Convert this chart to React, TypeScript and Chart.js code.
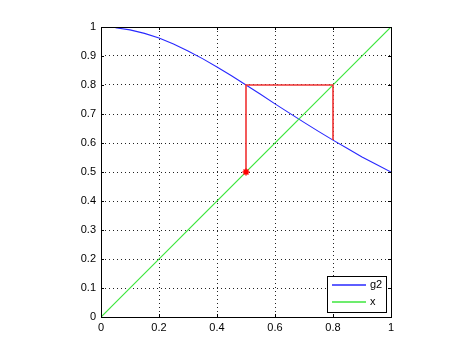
import React, { useEffect, useRef } from 'react';
import { Chart, registerables } from 'chart.js';
Chart.register(...registerables);

const g2X = [0.05, 0.1, 0.15, 0.2, 0.25, 0.3, 0.35, 0.4, 0.45, 0.5, 0.55, 0.6, 0.65, 0.7, 0.75, 0.8, 0.85, 0.9, 0.95, 1.0];
const g2Y = [0.9975, 0.99, 0.978, 0.962, 0.941, 0.917, 0.891, 0.862, 0.832, 0.8, 0.768, 0.735, 0.703, 0.671, 0.64, 0.61, 0.581, 0.552, 0.526, 0.5];
const idX = [0, 1];
const idY = [0, 1];
const webX = [0.5, 0.5, 0.8, 0.8];
const webY = [0.5, 0.8, 0.8, 0.61];
const startX = [0.5];
const startY = [0.5];
const xTickLabels = ['0', '0.2', '0.4', '0.6', '0.8', '1'];
const yTickLabels = ['0', '0.1', '0.2', '0.3', '0.4', '0.5', '0.6', '0.7', '0.8', '0.9', '1'];
const legendLabels = ['g2', 'x'];
const legendColors = ['rgb(40,40,255)', 'rgb(60,230,60)'];

const FAMILY = '"Liberation Sans", Arial, Helvetica, sans-serif';
const FONT = '11px ' + FAMILY;

const toPts = (xs: number[], ys: number[]) => xs.map((x, i) => ({ x, y: ys[i] }));

const framePlugin = {
  id: 'frame',
  afterDatasetsDraw(chart: any) {
    const { ctx, chartArea } = chart;
    const { left, right, top, bottom } = chartArea;
    ctx.save();
    ctx.setLineDash([]);
    ctx.strokeStyle = '#000';
    ctx.lineWidth = 1;
    ctx.strokeRect(Math.round(left) + 0.5, Math.round(top) + 0.5, Math.round(right - left), Math.round(bottom - top));
    const xs = chart.scales.x;
    const ys = chart.scales.y;
    const tl = 3;
    ctx.beginPath();
    xs.ticks.forEach((t: any) => {
      const px = Math.round(xs.getPixelForValue(t.value)) + 0.5;
      ctx.moveTo(px, bottom);
      ctx.lineTo(px, bottom - tl);
      ctx.moveTo(px, top);
      ctx.lineTo(px, top + tl);
    });
    ys.ticks.forEach((t: any) => {
      const py = Math.round(ys.getPixelForValue(t.value)) + 0.5;
      ctx.moveTo(left, py);
      ctx.lineTo(left + tl, py);
      ctx.moveTo(right, py);
      ctx.lineTo(right - tl, py);
    });
    ctx.stroke();
    ctx.restore();
  },
};

const legendPlugin = {
  id: 'mlegend',
  afterDraw(chart: any) {
    const { ctx, chartArea } = chart;
    const w = 59;
    const h = 36;
    const x = Math.round(chartArea.right - 5 - w);
    const y = Math.round(chartArea.bottom - 5 - h);
    ctx.save();
    ctx.setLineDash([]);
    ctx.fillStyle = '#fff';
    ctx.fillRect(x, y, w, h);
    ctx.strokeStyle = '#000';
    ctx.lineWidth = 1;
    ctx.strokeRect(x + 0.5, y + 0.5, w, h);
    ctx.font = FONT;
    ctx.textBaseline = 'middle';
    ctx.textAlign = 'left';
    for (let i = 0; i < legendLabels.length; i++) {
      const ly = y + 9 + i * 17;
      ctx.strokeStyle = legendColors[i];
      ctx.lineWidth = 1.3;
      ctx.beginPath();
      ctx.moveTo(x + 5, ly);
      ctx.lineTo(x + 39, ly);
      ctx.stroke();
      ctx.fillStyle = '#000';
      ctx.fillText(legendLabels[i], x + 43, ly);
    }
    ctx.restore();
  },
};

export default function App() {
  const ref = useRef<HTMLCanvasElement>(null);
  useEffect(() => {
    document.body.style.margin = '0';
    const chart = new Chart(ref.current!, {
      type: 'scatter',
      data: {
        datasets: [
          {
            label: 'start',
            data: toPts(startX, startY),
            showLine: false,
            pointStyle: 'star',
            pointRadius: 3.5,
            pointBorderColor: '#ff0000',
            pointBackgroundColor: '#ff0000',
            borderColor: '#ff0000',
            backgroundColor: '#ff0000',
            pointBorderWidth: 1.5,
            order: 0,
          },
          {
            label: 'web',
            data: toPts(webX, webY),
            showLine: true,
            borderColor: 'rgb(240,50,50)',
            backgroundColor: 'rgb(240,50,50)',
            borderWidth: 1.6,
            pointRadius: 0,
            order: 1,
          },
          {
            label: 'x',
            data: toPts(idX, idY),
            showLine: true,
            borderColor: 'rgb(60,230,60)',
            backgroundColor: 'rgb(60,230,60)',
            borderWidth: 1.2,
            pointRadius: 0,
            order: 2,
          },
          {
            label: 'g2',
            data: toPts(g2X, g2Y),
            showLine: true,
            borderColor: 'rgb(40,40,255)',
            backgroundColor: 'rgb(40,40,255)',
            borderWidth: 1.1,
            pointRadius: 0,
            tension: 0,
            order: 3,
          },
        ],
      },
      options: {
        responsive: false,
        animation: false,
        layout: { padding: { left: 0, top: 27, right: 83, bottom: 0 } },
        plugins: { legend: { display: false }, tooltip: { enabled: false } },
        scales: {
          x: {
            type: 'linear',
            min: 0,
            max: 1,
            afterFit: (s: any) => { s.height = 38; },
            ticks: {
              stepSize: 0.2,
              padding: 4,
              color: '#000',
              font: { family: FAMILY, size: 11 },
              maxRotation: 0,
              callback: (_v: any, i: number) => xTickLabels[i],
            },
            grid: { color: '#222', lineWidth: 1, drawTicks: false },
            border: { display: false, dash: [1, 3] },
          },
          y: {
            type: 'linear',
            min: 0,
            max: 1,
            afterFit: (s: any) => { s.width = 101; },
            ticks: {
              stepSize: 0.1,
              padding: 5,
              color: '#000',
              font: { family: FAMILY, size: 11 },
              callback: (_v: any, i: number) => yTickLabels[i],
            },
            grid: { color: '#222', lineWidth: 1, drawTicks: false },
            border: { display: false, dash: [1, 3] },
          },
        },
      },
      plugins: [framePlugin, legendPlugin],
    });
    return () => chart.destroy();
  }, []);
  return (
    <div style={{ width: 474, height: 355, background: '#fff' }}>
      <canvas ref={ref} width={474} height={355} style={{ display: 'block' }} />
    </div>
  );
}
